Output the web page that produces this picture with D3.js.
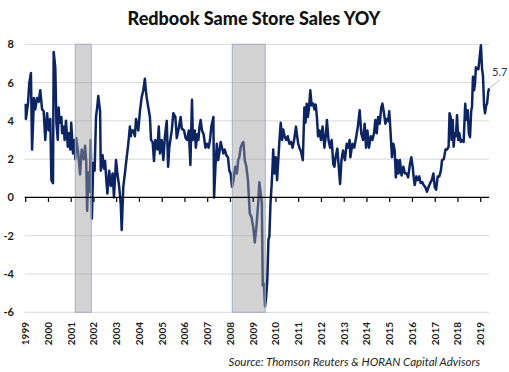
<!DOCTYPE html>
<html>
<head>
<meta charset="utf-8">
<script src="https://cdn.jsdelivr.net/npm/d3@7"></script>
<style>
    body { margin: 0; background: #fff; }
    #chart { width: 509px; height: 372px; }
</style>
</head>
<body>
<div id="chart"></div>
<script>
// weekly observations, date as decimal year
const weekDates = [
    1999.00, 1999.01, 1999.10, 1999.16, 1999.23, 1999.28, 1999.32, 1999.36, 1999.42, 1999.50, 1999.57, 1999.64, 1999.72, 1999.79, 1999.86, 1999.94,
    2000.01, 2000.08, 2000.13, 2000.20, 2000.23, 2000.30, 2000.35, 2000.41, 2000.45, 2000.49, 2000.57, 2000.60, 2000.67, 2000.71, 2000.77, 2000.85, 2000.89, 2000.96,
    2001.00, 2001.08, 2001.15, 2001.18, 2001.22, 2001.30, 2001.39, 2001.46, 2001.55, 2001.61, 2001.66, 2001.70, 2001.76, 2001.81, 2001.86, 2001.91, 2001.97,
    2002.03, 2002.09, 2002.15, 2002.19, 2002.27, 2002.30, 2002.38, 2002.44, 2002.49, 2002.55, 2002.59, 2002.67, 2002.74, 2002.82, 2002.88, 2002.97,
    2003.03, 2003.11, 2003.18, 2003.22, 2003.29, 2003.36, 2003.44, 2003.51, 2003.58, 2003.62, 2003.66, 2003.73, 2003.80, 2003.85, 2003.95,
    2004.02, 2004.10, 2004.17, 2004.24, 2004.28, 2004.32, 2004.39, 2004.46, 2004.51, 2004.58, 2004.64, 2004.70, 2004.79, 2004.85, 2004.90, 2004.98,
    2005.05, 2005.12, 2005.20, 2005.26, 2005.31, 2005.42, 2005.49, 2005.58, 2005.64, 2005.71, 2005.81, 2005.86, 2005.96,
    2006.03, 2006.10, 2006.17, 2006.24, 2006.28, 2006.31, 2006.35, 2006.43, 2006.48, 2006.54, 2006.59, 2006.64, 2006.69, 2006.75, 2006.82, 2006.90, 2006.97,
    2007.04, 2007.10, 2007.16, 2007.25, 2007.28, 2007.34, 2007.40, 2007.46, 2007.51, 2007.57, 2007.63, 2007.69, 2007.75, 2007.82, 2007.89, 2007.95,
    2008.01, 2008.07, 2008.13, 2008.21, 2008.28, 2008.34, 2008.39, 2008.45, 2008.51, 2008.57, 2008.63, 2008.70, 2008.77, 2008.85, 2008.92,
    2009.00, 2009.07, 2009.14, 2009.22, 2009.27, 2009.33, 2009.38, 2009.42, 2009.47, 2009.52, 2009.57, 2009.62, 2009.67, 2009.71, 2009.76, 2009.81, 2009.85, 2009.88, 2009.93, 2009.99,
    2010.05, 2010.15, 2010.21, 2010.27, 2010.32, 2010.38, 2010.45, 2010.52, 2010.59, 2010.66, 2010.73, 2010.80, 2010.88, 2010.92, 2010.98,
    2011.03, 2011.10, 2011.18, 2011.25, 2011.30, 2011.35, 2011.40, 2011.45, 2011.51, 2011.57, 2011.64, 2011.69, 2011.75, 2011.80, 2011.85, 2011.91, 2011.98,
    2012.05, 2012.13, 2012.19, 2012.24, 2012.31, 2012.38, 2012.45, 2012.52, 2012.57, 2012.62, 2012.70, 2012.75, 2012.82, 2012.88, 2012.95,
    2013.03, 2013.11, 2013.17, 2013.24, 2013.27, 2013.36, 2013.44, 2013.52, 2013.60, 2013.68, 2013.75, 2013.83, 2013.90, 2013.96,
    2014.02, 2014.09, 2014.17, 2014.24, 2014.31, 2014.37, 2014.43, 2014.49, 2014.56, 2014.63, 2014.68, 2014.75, 2014.81, 2014.87, 2014.93, 2014.98,
    2015.04, 2015.10, 2015.16, 2015.22, 2015.27, 2015.33, 2015.39, 2015.45, 2015.52, 2015.60, 2015.67, 2015.75, 2015.81, 2015.89, 2015.95,
    2016.01, 2016.05, 2016.10, 2016.17, 2016.24, 2016.30, 2016.36, 2016.43, 2016.49, 2016.56, 2016.64, 2016.71, 2016.78, 2016.85, 2016.92, 2016.98,
    2017.04, 2017.11, 2017.18, 2017.25, 2017.30, 2017.38, 2017.45, 2017.52, 2017.59, 2017.63, 2017.68, 2017.72, 2017.77, 2017.81, 2017.86, 2017.91, 2017.96,
    2018.01, 2018.06, 2018.12, 2018.18, 2018.25, 2018.32, 2018.36, 2018.43, 2018.48, 2018.53, 2018.58, 2018.62, 2018.66, 2018.71, 2018.75, 2018.79, 2018.84, 2018.90, 2018.96,
    2019.01, 2019.06, 2019.10, 2019.15, 2019.19, 2019.24, 2019.28, 2019.33, 2019.37
];
const yoy = [
    4.9, 4.1, 4.9, 6.0, 6.5, 2.5, 3.7, 5.2, 4.6, 5.2, 5.0, 5.6, 4.6, 4.5, 3.0, 4.4,
    3.5, 4.1, 0.9, 0.75, 7.6, 6.8, 3.9, 3.0, 4.7, 3.9, 4.2, 3.35, 3.7, 3.0, 4.0, 2.65, 3.35, 2.5,
    3.9, 2.3, 3.0, 2.0, 3.1, 2.4, 1.2, 2.5, 2.0, 2.7, 1.9, -0.7, 1.3, 0.3, 3.0, -1.1, 1.8,
    1.4, 4.2, 4.8, 5.3, 4.5, 1.4, 2.2, 1.5, 1.9, 0.8, 0.2, 1.4, 0.6, 1.25, 0.0, 1.95,
    1.25, 0.55, -0.4, -1.7, 0.55, 1.25, 2.1, 2.8, 3.7, 3.2, 3.5, 3.5, 3.2, 4.1, 3.5,
    4.5, 5.25, 5.6, 6.2, 5.6, 5.2, 4.7, 4.2, 3.0, 2.9, 1.9, 3.0, 2.5, 3.7, 2.3, 3.0,
    1.95, 3.2, 4.0, 1.6, 2.6, 3.5, 4.4, 4.2, 3.1, 3.5, 4.2, 3.6, 3.5,
    3.1, 3.0, 3.5, 1.7, 3.7, 5.1, 3.0, 3.5, 2.6, 3.3, 3.0, 3.7, 4.05, 3.5, 3.3, 2.6, 2.8,
    2.6, 3.0, 3.7, 4.2, 0.0, 1.6, 2.8, 1.95, 2.3, 2.9, 2.6, 2.3, 2.5, 2.2, 2.1, 1.4,
    1.25, 0.55, 0.9, 1.6, 1.25, 1.95, 2.1, 2.6, 2.8, 2.9, 1.95, 1.6, 0.9, -0.85, -1.0,
    -1.55, -2.35, -1.55, -0.3, 0.8, 0.2, -0.3, -4.6, -4.5, -5.7, -5.2, -4.3, -2.2, -2.05, -0.3, 0.65, 1.6, 2.5, 1.25, 2.1,
    0.9, 2.9, 3.9, 3.0, 3.55, 3.2, 3.0, 3.2, 2.8, 2.9, 2.6, 3.0, 3.7, 3.3, 2.8,
    2.6, 2.4, 1.95, 4.7, 3.9, 4.9, 4.2, 4.6, 5.6, 4.8, 4.9, 4.6, 4.85, 4.2, 3.2, 3.5, 3.0,
    3.7, 2.6, 3.2, 4.05, 3.0, 2.6, 3.0, 1.75, 1.6, 2.1, 2.55, 1.75, 0.7, 1.95, 2.45,
    1.95, 2.8, 2.6, 3.0, 2.1, 2.8, 2.6, 3.1, 3.7, 4.55, 3.35, 3.0, 3.85, 2.6,
    3.5, 2.6, 3.2, 3.0, 3.35, 4.05, 3.35, 4.2, 3.85, 4.7, 4.9, 4.4, 3.85, 4.1, 4.0, 4.5,
    3.35, 2.1, 2.8, 2.45, 1.05, 1.95, 1.25, 1.95, 1.15, 1.6, 1.25, 1.25, 1.05, 1.75, 2.1,
    1.6, 1.1, 0.65, 1.1, 0.9, 1.1, 0.75, 0.8, 0.65, 0.55, 0.3, 0.55, 0.75, 0.9, 1.25, 0.55,
    0.4, 1.1, 1.1, 1.4, 1.95, 2.0, 2.5, 2.5, 2.65, 4.4, 4.2, 3.0, 4.05, 2.65, 3.35, 3.2, 4.3,
    3.0, 3.35, 2.9, 3.0, 2.9, 4.9, 4.05, 4.55, 3.35, 3.15, 4.5, 4.75, 6.3, 5.6, 5.95, 6.8, 6.7, 6.7, 7.4,
    7.95, 6.7, 6.35, 4.75, 4.4, 4.8, 4.9, 5.5, 5.7
];
const years = d3.range(1999, 2020);
const yTicks = [-6, -4, -2, 0, 2, 4, 6, 8];
// recession periods (start, end)
const recessionStart = [2001.18, 2008.08];
const recessionEnd = [2001.88, 2009.53];
const lastLabel = "5.7";

const width = 509, height = 372;
const margin = {top: 44.3, right: 20, bottom: 59.7, left: 25.7};

const svg = d3.select("#chart")
    .append("svg")
    .attr("width", width)
    .attr("height", height)
    .style("font-family", "Lato, 'Open Sans', sans-serif");

const x = d3.scaleLinear()
    .domain([1999, 2019])
    .range([margin.left, 480.7]);

const y = d3.scaleLinear()
    .domain([-6, 8])
    .range([height - margin.bottom, margin.top]);

const plotRight = x(2019.37);

// title
svg.append("text")
    .attr("x", 254)
    .attr("y", 25)
    .attr("text-anchor", "middle")
    .style("font-size", "18px")
    .style("font-weight", "900")
    .style("fill", "#111")
    .text("Redbook Same Store Sales YOY");

// gridlines
svg.append("g")
    .selectAll("line")
    .data(yTicks.filter(d => d !== 0))
    .join("line")
    .attr("x1", margin.left - 1)
    .attr("x2", plotRight)
    .attr("y1", d => y(d))
    .attr("y2", d => y(d))
    .style("stroke", "#d9d9d9")
    .style("stroke-width", 1);

// y labels
svg.append("g")
    .selectAll("text")
    .data(yTicks)
    .join("text")
    .attr("x", 14)
    .attr("y", d => y(d) + 4)
    .attr("text-anchor", "end")
    .style("font-size", "11px")
    .style("font-weight", "bold")
    .style("fill", "#1a1a1a")
    .text(d => d);

// the series
const pts = weekDates.map((d, i) => [d, yoy[i]]);
const line = d3.line()
    .x(d => x(d[0]))
    .y(d => y(d[1]));

svg.append("path")
    .datum(pts)
    .attr("d", line)
    .style("fill", "none")
    .style("stroke", "#0c2461")
    .style("stroke-width", 2.5)
    .style("stroke-linejoin", "round");

// recession shading sits over the line
svg.append("g")
    .selectAll("rect")
    .data(recessionStart)
    .join("rect")
    .attr("x", d => x(d))
    .attr("y", y(8))
    .attr("width", (d, i) => x(recessionEnd[i]) - x(d))
    .attr("height", y(-6) - y(8))
    .style("fill", "rgba(160,160,162,0.46)")
    .style("stroke", "#a3adc6")
    .style("stroke-width", 1);

// zero axis with ticks
svg.append("line")
    .attr("x1", margin.left - 1)
    .attr("x2", plotRight)
    .attr("y1", y(0))
    .attr("y2", y(0))
    .style("stroke", "#000")
    .style("stroke-width", 1.3);

svg.append("g")
    .selectAll("line")
    .data(years)
    .join("line")
    .attr("x1", d => x(d))
    .attr("x2", d => x(d))
    .attr("y1", y(0))
    .attr("y2", y(0) + 4.5)
    .style("stroke", "#000")
    .style("stroke-width", 1.2);

// x labels, rotated
svg.append("g")
    .selectAll("text")
    .data(years)
    .join("text")
    .attr("transform", d => `translate(${x(d) + 3.5}, 322) rotate(-90)`)
    .attr("text-anchor", "end")
    .style("font-size", "10px")
    .style("font-weight", "bold")
    .style("fill", "#1a1a1a")
    .text(d => d);

// last value callout
const last = pts[pts.length - 1];
svg.append("line")
    .attr("x1", x(last[0]))
    .attr("y1", y(last[1]))
    .attr("x2", x(last[0]) + 11)
    .attr("y2", y(last[1]) - 8.5)
    .style("stroke", "#bfbfbf")
    .style("stroke-width", 1);

svg.append("text")
    .attr("x", x(last[0]) + 3)
    .attr("y", y(last[1]) - 12)
    .style("font-size", "11px")
    .style("fill", "#1f3864")
    .text(lastLabel);

// source
svg.append("text")
    .attr("x", 480)
    .attr("y", 366)
    .attr("text-anchor", "end")
    .style("font-size", "11.5px")
    .style("font-style", "italic")
    .style("fill", "#262626")
    .text("Source:  Thomson Reuters & HORAN Capital Advisors");
</script>
</body>
</html>
